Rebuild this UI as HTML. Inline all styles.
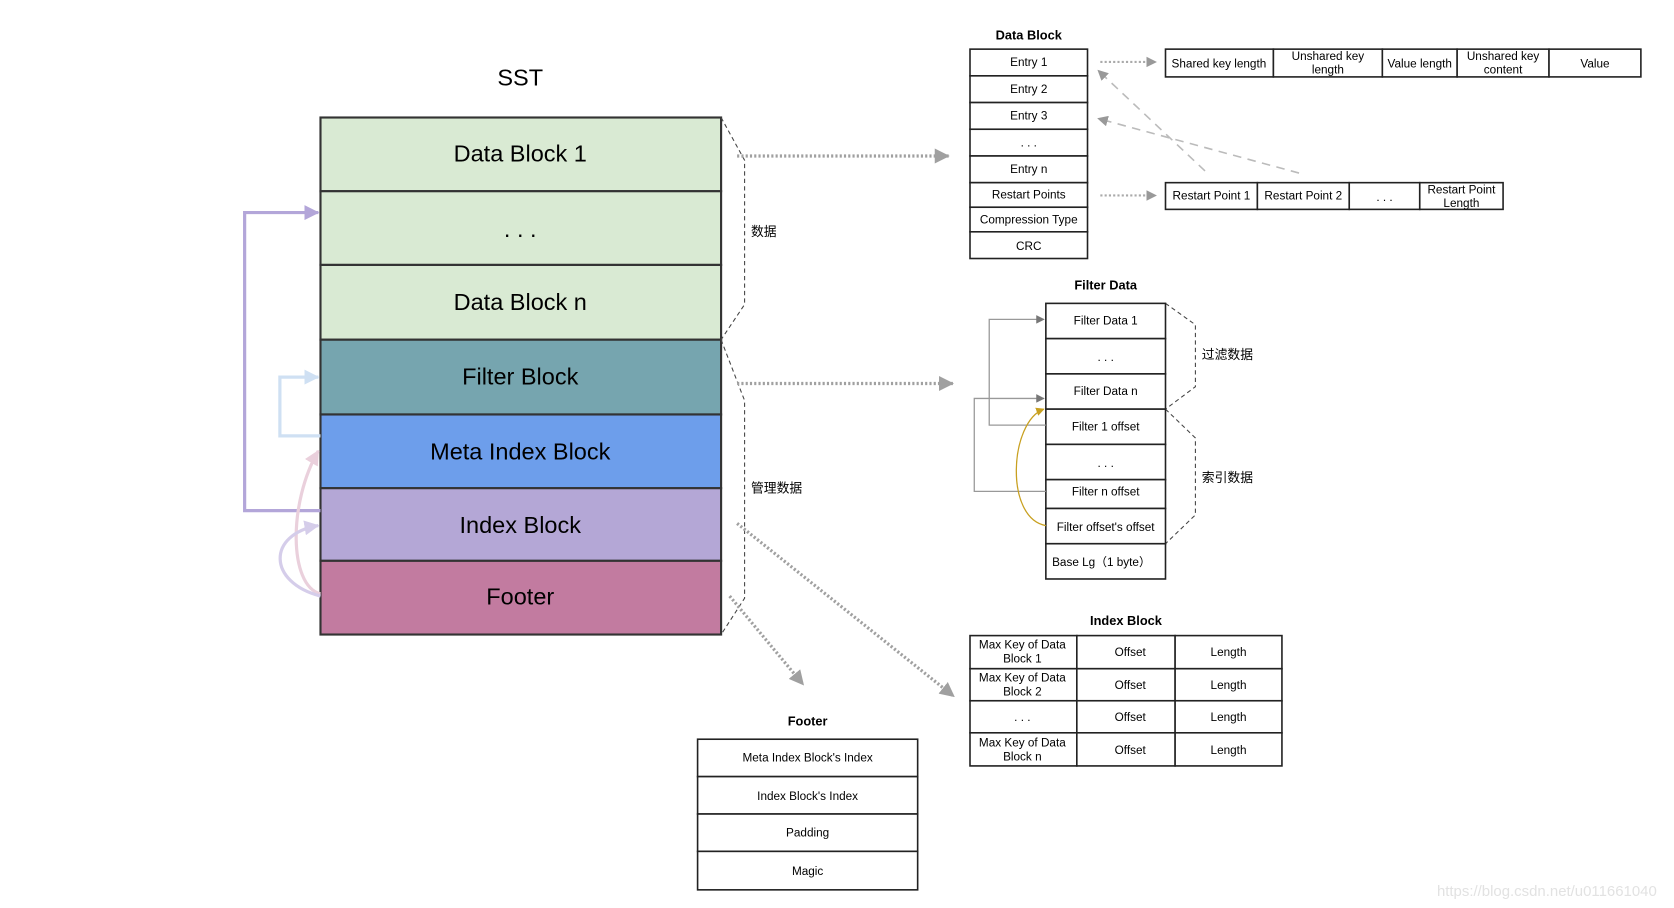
<!DOCTYPE html>
<html><head><meta charset="utf-8"><style>
html,body{margin:0;padding:0;background:#fff;width:1674px;height:908px;overflow:hidden}
svg{display:block}
text{font-family:"Liberation Sans","Noto Sans CJK SC",sans-serif;fill:#000}
</style></head><body>
<svg width="1674" height="908" viewBox="0 0 1567 850" preserveAspectRatio="none" xmlns="http://www.w3.org/2000/svg">
<defs>
<marker id="ag" markerWidth="10" markerHeight="10" refX="9" refY="5" orient="auto" markerUnits="userSpaceOnUse"><path d="M0,0 L10,5 L0,10 z" fill="#999"/></marker>
<marker id="ag2" markerWidth="14" markerHeight="14" refX="13" refY="7" orient="auto" markerUnits="userSpaceOnUse"><path d="M0,0 L14,7 L0,14 z" fill="#a0a0a0"/></marker>
<marker id="ad" markerWidth="8" markerHeight="8" refX="7" refY="4" orient="auto" markerUnits="userSpaceOnUse"><path d="M0,0 L8,4 L0,8 z" fill="#777"/></marker>
<marker id="ay" markerWidth="8" markerHeight="8" refX="7" refY="4" orient="auto" markerUnits="userSpaceOnUse"><path d="M0,0 L8,4 L0,8 z" fill="#c8a020"/></marker>
<marker id="ap" markerWidth="14" markerHeight="14" refX="13" refY="7" orient="auto" markerUnits="userSpaceOnUse"><path d="M0,0 L14,7 L0,14 z" fill="#b3a6d9"/></marker>
<marker id="ab" markerWidth="14" markerHeight="14" refX="13" refY="7" orient="auto" markerUnits="userSpaceOnUse"><path d="M0,0 L14,7 L0,14 z" fill="#cfe0f3"/></marker>
<marker id="ak" markerWidth="14" markerHeight="14" refX="13" refY="7" orient="auto" markerUnits="userSpaceOnUse"><path d="M0,0 L14,7 L0,14 z" fill="#ead0dc"/></marker>
<marker id="al" markerWidth="14" markerHeight="14" refX="13" refY="7" orient="auto" markerUnits="userSpaceOnUse"><path d="M0,0 L14,7 L0,14 z" fill="#d5cdea"/></marker>
</defs>

<text x="487" y="80" font-size="22" text-anchor="middle">SST</text>
<g stroke="#333" stroke-width="2">
<rect x="300" y="110" width="375" height="69" fill="#d9ead3"/>
<rect x="300" y="179" width="375" height="69" fill="#d9ead3"/>
<rect x="300" y="248" width="375" height="70" fill="#d9ead3"/>
<rect x="300" y="318" width="375" height="70" fill="#76a5af"/>
<rect x="300" y="388" width="375" height="69" fill="#6d9eeb"/>
<rect x="300" y="457" width="375" height="68" fill="#b4a7d6"/>
<rect x="300" y="525" width="375" height="69" fill="#c27ba0"/>
</g>
<g font-size="22" text-anchor="middle">
<text x="487" y="151">Data Block 1</text>
<text x="487" y="222">. . .</text>
<text x="487" y="290">Data Block n</text>
<text x="487" y="360">Filter Block</text>
<text x="487" y="430">Meta Index Block</text>
<text x="487" y="499">Index Block</text>
<text x="487" y="566">Footer</text>
</g>

<g fill="none" stroke="#444" stroke-width="1" stroke-dasharray="4,3">
<path d="M675,110 L697,150 L697,285 L675,318"/>
<path d="M675,318 L697,375 L697,560 L675,594"/>
<path d="M1091,284 L1119,304 L1119,362 L1091,383"/>
<path d="M1091,383 L1119,410 L1119,482 L1091,509"/>
</g>
<g font-size="12"><text x="703" y="221">数据</text><text x="703" y="461">管理数据</text>
<text x="1125" y="336">过滤数据</text><text x="1125" y="451">索引数据</text></g>

<g stroke="#a0a0a0" stroke-width="3" stroke-dasharray="2,2" fill="none">
<line x1="690" y1="146" x2="888" y2="146" marker-end="url(#ag2)"/>
<line x1="690" y1="359" x2="892" y2="359" marker-end="url(#ag2)"/>
<line x1="690" y1="490" x2="893" y2="652" marker-end="url(#ag2)"/>
<line x1="683" y1="558" x2="752" y2="641" marker-end="url(#ag2)"/>
</g>

<g fill="none" stroke-width="3">
<path d="M300,478 L229,478 L229,199 L298,199" stroke="#b3a6d9" marker-end="url(#ap)"/>
<path d="M300,408 L262,408 L262,353 L298,353" stroke="#cfe0f3" marker-end="url(#ab)"/>
<path d="M300,556 C270,548 270,470 298,422" stroke="#ead0dc" marker-end="url(#ak)"/>
<path d="M300,558 C250,545 250,500 298,492" stroke="#d5cdea" marker-end="url(#al)"/>
</g>

<text x="963" y="37" font-size="12" font-weight="bold" text-anchor="middle">Data Block</text>
<g stroke="#222" stroke-width="1.5" fill="#fff">
<rect x="908" y="46" width="110" height="25"/><rect x="908" y="71" width="110" height="25"/>
<rect x="908" y="96" width="110" height="25"/><rect x="908" y="121" width="110" height="25"/>
<rect x="908" y="146" width="110" height="25"/><rect x="908" y="171" width="110" height="23"/>
<rect x="908" y="194" width="110" height="23"/><rect x="908" y="217" width="110" height="25"/>
</g>
<g font-size="11" text-anchor="middle">
<text x="963" y="62">Entry 1</text><text x="963" y="87">Entry 2</text><text x="963" y="112">Entry 3</text>
<text x="963" y="137">. . .</text><text x="963" y="162">Entry n</text><text x="963" y="186">Restart Points</text>
<text x="963" y="209">Compression Type</text><text x="963" y="234">CRC</text>
</g>
<g stroke="#222" stroke-width="1.5" fill="#fff">
<rect x="1091" y="46" width="101" height="26"/><rect x="1192" y="46" width="102" height="26"/>
<rect x="1294" y="46" width="70" height="26"/><rect x="1364" y="46" width="86" height="26"/>
<rect x="1450" y="46" width="86" height="26"/>
<rect x="1091" y="171" width="86" height="25"/><rect x="1177" y="171" width="86" height="25"/>
<rect x="1263" y="171" width="66" height="25"/><rect x="1329" y="171" width="78" height="25"/>
</g>
<g font-size="11" text-anchor="middle">
<text x="1141" y="63">Shared key length</text>
<text x="1243" y="56">Unshared key</text><text x="1243" y="69">length</text>
<text x="1329" y="63">Value length</text>
<text x="1407" y="56">Unshared key</text><text x="1407" y="69">content</text>
<text x="1493" y="63">Value</text>
<text x="1134" y="187">Restart Point 1</text><text x="1220" y="187">Restart Point 2</text>
<text x="1296" y="188">. . .</text>
<text x="1368" y="181">Restart Point</text><text x="1368" y="194">Length</text>
</g>
<g stroke="#aaa" stroke-width="2" stroke-dasharray="2,2"><line x1="1030" y1="58" x2="1082" y2="58" marker-end="url(#ag)"/><line x1="1030" y1="183" x2="1082" y2="183" marker-end="url(#ag)"/></g>
<g stroke="#bbb" stroke-width="1.5" stroke-dasharray="8,6" fill="none">
<line x1="1128" y1="160" x2="1028" y2="66" marker-end="url(#ag)"/>
<line x1="1216" y1="162" x2="1028" y2="111" marker-end="url(#ag)"/>
</g>

<text x="1035" y="271" font-size="12" font-weight="bold" text-anchor="middle">Filter Data</text>
<g stroke="#222" stroke-width="1.5" fill="#fff">
<rect x="979" y="284" width="112" height="33"/><rect x="979" y="317" width="112" height="33"/>
<rect x="979" y="350" width="112" height="33"/><rect x="979" y="383" width="112" height="33"/>
<rect x="979" y="416" width="112" height="33"/><rect x="979" y="449" width="112" height="27"/>
<rect x="979" y="476" width="112" height="33"/><rect x="979" y="509" width="112" height="33"/>
</g>
<g font-size="11" text-anchor="middle">
<text x="1035" y="304">Filter Data 1</text><text x="1035" y="338">. . .</text>
<text x="1035" y="370">Filter Data n</text><text x="1035" y="403">Filter 1 offset</text>
<text x="1035" y="437">. . .</text><text x="1035" y="464">Filter n offset</text>
<text x="1035" y="497">Filter offset's offset</text><text x="1031" y="530">Base Lg（1 byte）</text>
</g>
<g fill="none" stroke="#999" stroke-width="1.2">
<path d="M979,398 L926,398 L926,299 L977,299" marker-end="url(#ad)"/>
<path d="M979,460 L912,460 L912,373 L977,373" marker-end="url(#ad)"/>
</g>
<path d="M979,492 C940,485 945,395 977,383" fill="none" stroke="#c8a020" stroke-width="1.2" marker-end="url(#ay)"/>

<text x="1054" y="585" font-size="12" font-weight="bold" text-anchor="middle">Index Block</text>
<g stroke="#222" stroke-width="1.5" fill="#fff">
<rect x="908" y="595" width="100" height="31"/><rect x="1008" y="595" width="92" height="31"/><rect x="1100" y="595" width="100" height="31"/>
<rect x="908" y="626" width="100" height="30"/><rect x="1008" y="626" width="92" height="30"/><rect x="1100" y="626" width="100" height="30"/>
<rect x="908" y="656" width="100" height="30"/><rect x="1008" y="656" width="92" height="30"/><rect x="1100" y="656" width="100" height="30"/>
<rect x="908" y="686" width="100" height="31"/><rect x="1008" y="686" width="92" height="31"/><rect x="1100" y="686" width="100" height="31"/>
</g>
<g font-size="11" text-anchor="middle">
<text x="957" y="607">Max Key of Data</text><text x="957" y="620">Block 1</text>
<text x="1058" y="614">Offset</text><text x="1150" y="614">Length</text>
<text x="957" y="638">Max Key of Data</text><text x="957" y="651">Block 2</text>
<text x="1058" y="645">Offset</text><text x="1150" y="645">Length</text>
<text x="957" y="675">. . .</text>
<text x="1058" y="675">Offset</text><text x="1150" y="675">Length</text>
<text x="957" y="699">Max Key of Data</text><text x="957" y="712">Block n</text>
<text x="1058" y="706">Offset</text><text x="1150" y="706">Length</text>
</g>

<text x="756" y="679" font-size="12" font-weight="bold" text-anchor="middle">Footer</text>
<g stroke="#222" stroke-width="1.5" fill="#fff">
<rect x="653" y="692" width="206" height="35"/><rect x="653" y="727" width="206" height="35"/>
<rect x="653" y="762" width="206" height="35"/><rect x="653" y="797" width="206" height="36"/>
</g>
<g font-size="11" text-anchor="middle">
<text x="756" y="713">Meta Index Block's Index</text><text x="756" y="749">Index Block's Index</text>
<text x="756" y="783">Padding</text><text x="756" y="819">Magic</text>
</g>
<text x="1448" y="839" font-size="14" text-anchor="middle" style="fill:#e2e2e2">https://blog.csdn.net/u011661040</text>
</svg>
</body></html>
